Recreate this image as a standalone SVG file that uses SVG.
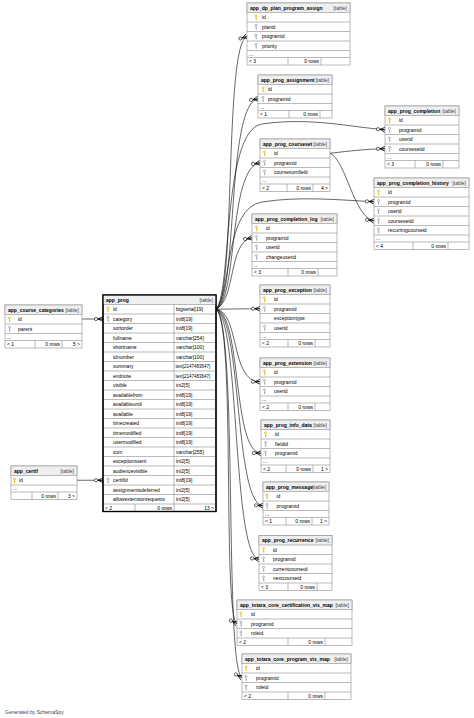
<svg xmlns="http://www.w3.org/2000/svg" xmlns:xlink="http://www.w3.org/1999/xlink" width="474" height="718" viewBox="0 0 474 718">
<style>
.bx{fill:#fff;stroke:#8c8c8c;stroke-width:0.6}
.bxm{fill:#fff;stroke:#000;stroke-width:1.2}
.hd{fill:#efefef;stroke:#8c8c8c;stroke-width:0.6}
.ln{fill:none;stroke:#8c8c8c;stroke-width:0.6}
.t{font-family:"Liberation Sans",Arial,sans-serif;font-size:5px;fill:#000}
.s{font-size:4.5px}
.n{font-weight:bold}
.r{text-anchor:end}
.g{fill:#444}
.c{fill:none;stroke:#000;stroke-width:0.6;marker-end:url(#crow)}
</style>
<defs>
<marker id="crow" markerUnits="userSpaceOnUse" viewBox="0 0 10 8" refX="10" refY="4" markerWidth="10" markerHeight="8" orient="auto">
<circle cx="3" cy="4" r="1.6" fill="#fff" stroke="#000" stroke-width="0.6"/>
<path d="M5,4L10,1.6M5,4L10,4M5,4L10,6.4" fill="none" stroke="#000" stroke-width="0.8"/>
</marker>
<g id="pk"><circle cx="0" cy="-1.4" r="1" fill="none" stroke="#d9b600" stroke-width="0.7"/><path d="M0,-0.4V2.6M0,1.5H0.9M0,2.4H0.9" fill="none" stroke="#d9b600" stroke-width="0.7"/></g>
<g id="fk"><circle cx="0" cy="-1.4" r="1" fill="none" stroke="#8a98ab" stroke-width="0.7"/><path d="M0,-0.4V2.6M0,1.5H0.9M0,2.4H0.9" fill="none" stroke="#8a98ab" stroke-width="0.7"/></g>
</defs>

<g id="connectors">
<path class="c" d="M216,309.25 C236,300 224,44 247,36.25"/>
<path class="c" d="M216,309.25 C238,300 226,104 258,98.75"/>
<path class="c" d="M216,309.25 C232,292 222,130 262,124 C310,117 350,127 385,129.75"/>
<path class="c" d="M216,309.25 C238,300 228,168 260,162.75"/>
<path class="c" d="M216,309.25 C232,292 224,208 262,202 C300,196 340,200 374,201.75"/>
<path class="c" d="M216,309.25 C236,300 228,242 252,237.75"/>
<path class="c" d="M216,309.25 C232,309 244,308.75 260,308.75"/>
<path class="c" d="M216,309.25 C240,312 230,382 260,381.75"/>
<path class="c" d="M216,309.25 C242,314 232,452 261,453.25"/>
<path class="c" d="M216,309.25 C242,316 234,504 263,505.75"/>
<path class="c" d="M216,309.25 C240,318 232,556 259,559.25"/>
<path class="c" d="M216,309.25 C236,320 222,616 237,623.75"/>
<path class="c" d="M216,309.25 C238,322 224,668 242,677.75"/>
<path class="c" d="M82,319 L103,319"/>
<path class="c" d="M77,480.25 L103,480.25"/>
<path class="c" d="M330,153.25 C350,151 365,149 385,148.75"/>
<path class="c" d="M330,153.25 C346,160 354,218 374,220.75"/>
</g>

<g id="app_dp_plan_program_assign">
<rect class="bx" x="247" y="3" width="103" height="62"/>
<rect class="hd" x="247" y="3" width="103" height="9.5"/>
<path class="ln" d="M247,22H350M247,31.5H350M247,41H350M247,50.5H350M247,57.5H350M288,57.5V65M321,57.5V65"/>
<text class="t n" x="250" y="9.5">app_dp_plan_program_assign</text>
<text class="t r g" x="347" y="9.5">[table]</text>
<use xlink:href="#pk" x="256" y="17.25"/><text class="t" x="262" y="19">id</text>
<use xlink:href="#fk" x="256" y="26.75"/><text class="t" x="262" y="28.5">planid</text>
<use xlink:href="#fk" x="256" y="36.25"/><text class="t" x="262" y="38">programid</text>
<use xlink:href="#fk" x="256" y="45.75"/><text class="t" x="262" y="47.5">priority</text>
<text class="t" x="249" y="55.8">...</text>
<text class="t" x="249" y="63">&lt; 3</text>
<text class="t r" x="319" y="63">0 rows</text>
</g>

<g id="app_prog_assignment">
<rect class="bx" x="258" y="75" width="74" height="43"/>
<rect class="hd" x="258" y="75" width="74" height="9.5"/>
<path class="ln" d="M258,94H332M258,103.5H332M258,110.5H332M289,110.5V118M320,110.5V118"/>
<text class="t n" x="261" y="81.5">app_prog_assignment</text>
<text class="t r g" x="329" y="81.5">[table]</text>
<use xlink:href="#pk" x="263" y="89.25"/><text class="t" x="268" y="91">id</text>
<use xlink:href="#fk" x="263" y="98.75"/><text class="t" x="268" y="100.5">programid</text>
<text class="t" x="260" y="108.8">...</text>
<text class="t" x="260" y="116">&lt; 1</text>
<text class="t r" x="318" y="116">0 rows</text>
</g>

<g id="app_prog_completion">
<rect class="bx" x="385" y="106" width="74" height="62"/>
<rect class="hd" x="385" y="106" width="74" height="9.5"/>
<path class="ln" d="M385,125H459M385,134.5H459M385,144H459M385,153.5H459M385,160.5H459M415,160.5V168M443,160.5V168"/>
<text class="t n" x="388" y="112.5">app_prog_completion</text>
<text class="t r g" x="456" y="112.5">[table]</text>
<use xlink:href="#pk" x="389.5" y="120.25"/><text class="t" x="399" y="122">id</text>
<use xlink:href="#fk" x="389.5" y="129.75"/><text class="t" x="399" y="131.5">programid</text>
<use xlink:href="#fk" x="389.5" y="139.25"/><text class="t" x="399" y="141">userid</text>
<use xlink:href="#fk" x="389.5" y="148.75"/><text class="t" x="399" y="150.5">coursesetid</text>
<text class="t" x="387" y="158.8">...</text>
<text class="t" x="387" y="166">&lt; 3</text>
<text class="t r" x="441" y="166">0 rows</text>
</g>

<g id="app_prog_completion_history">
<rect class="bx" x="374" y="178" width="95" height="71.5"/>
<rect class="hd" x="374" y="178" width="95" height="9.5"/>
<path class="ln" d="M374,197H469M374,206.5H469M374,216H469M374,225.5H469M374,235H469M374,242H469M413,242V249.5M448,242V249.5"/>
<text class="t n" x="377" y="184.5">app_prog_completion_history</text>
<text class="t r g" x="466" y="184.5">[table]</text>
<use xlink:href="#pk" x="378.5" y="192.25"/><text class="t" x="388" y="194">id</text>
<use xlink:href="#fk" x="378.5" y="201.75"/><text class="t" x="388" y="203.5">programid</text>
<use xlink:href="#fk" x="378.5" y="211.25"/><text class="t" x="388" y="213">userid</text>
<use xlink:href="#fk" x="378.5" y="220.75"/><text class="t" x="388" y="222.5">coursesetid</text>
<use xlink:href="#fk" x="378.5" y="230.25"/><text class="t" x="388" y="232">recurringcourseid</text>
<text class="t" x="376" y="240.3">...</text>
<text class="t" x="376" y="247.5">&lt; 4</text>
<text class="t r" x="446" y="247.5">0 rows</text>
</g>

<g id="app_prog_courseset">
<rect class="bx" x="260" y="139" width="70" height="52.5"/>
<rect class="hd" x="260" y="139" width="70" height="9.5"/>
<path class="ln" d="M260,158H330M260,167.5H330M260,177H330M260,184H330M287,184V191.5M313,184V191.5"/>
<text class="t n" x="263" y="145.5">app_prog_courseset</text>
<text class="t r g" x="327" y="145.5">[table]</text>
<use xlink:href="#pk" x="264.5" y="153.25"/><text class="t" x="274" y="155">id</text>
<use xlink:href="#fk" x="264.5" y="162.75"/><text class="t" x="274" y="164.5">programid</text>
<use xlink:href="#fk" x="264.5" y="172.25"/><text class="t" x="274" y="174">coursesumfield</text>
<text class="t" x="262" y="182.3">...</text>
<text class="t" x="262" y="189.5">&lt; 2</text>
<text class="t r" x="311" y="189.5">0 rows</text>
<text class="t r" x="328" y="189.5">4 &gt;</text>
</g>

<g id="app_prog_completion_log">
<rect class="bx" x="252" y="214" width="85" height="62"/>
<rect class="hd" x="252" y="214" width="85" height="9.5"/>
<path class="ln" d="M252,233H337M252,242.5H337M252,252H337M252,261.5H337M252,268.5H337M288,268.5V276M318,268.5V276"/>
<text class="t n" x="255" y="220.5">app_prog_completion_log</text>
<text class="t r g" x="334" y="220.5">[table]</text>
<use xlink:href="#pk" x="256.5" y="228.25"/><text class="t" x="266" y="230">id</text>
<use xlink:href="#fk" x="256.5" y="237.75"/><text class="t" x="266" y="239.5">programid</text>
<use xlink:href="#fk" x="256.5" y="247.25"/><text class="t" x="266" y="249">userid</text>
<use xlink:href="#fk" x="256.5" y="256.75"/><text class="t" x="266" y="258.5">changeuserid</text>
<text class="t" x="254" y="266.8">...</text>
<text class="t" x="254" y="274">&lt; 3</text>
<text class="t r" x="316" y="274">0 rows</text>
</g>

<g id="app_prog_exception">
<rect class="bx" x="260" y="285" width="70" height="62"/>
<rect class="hd" x="260" y="285" width="70" height="9.5"/>
<path class="ln" d="M260,304H330M260,313.5H330M260,323H330M260,332.5H330M260,339.5H330M288,339.5V347M315,339.5V347"/>
<text class="t n" x="263" y="291.5">app_prog_exception</text>
<text class="t r g" x="327" y="291.5">[table]</text>
<use xlink:href="#pk" x="264.5" y="299.25"/><text class="t" x="274" y="301">id</text>
<use xlink:href="#fk" x="264.5" y="308.75"/><text class="t" x="274" y="310.5">programid</text>
<text class="t" x="274" y="320">exceptiontype</text>
<use xlink:href="#fk" x="264.5" y="327.75"/><text class="t" x="274" y="329.5">userid</text>
<text class="t" x="262" y="337.8">...</text>
<text class="t" x="262" y="345">&lt; 2</text>
<text class="t r" x="313" y="345">0 rows</text>
</g>

<g id="app_prog_extension">
<rect class="bx" x="260" y="358" width="70" height="52.5"/>
<rect class="hd" x="260" y="358" width="70" height="9.5"/>
<path class="ln" d="M260,377H330M260,386.5H330M260,396H330M260,403H330M288,403V410.5M315,403V410.5"/>
<text class="t n" x="263" y="364.5">app_prog_extension</text>
<text class="t r g" x="327" y="364.5">[table]</text>
<use xlink:href="#pk" x="264.5" y="372.25"/><text class="t" x="274" y="374">id</text>
<use xlink:href="#fk" x="264.5" y="381.75"/><text class="t" x="274" y="383.5">programid</text>
<use xlink:href="#fk" x="264.5" y="391.25"/><text class="t" x="274" y="393">userid</text>
<text class="t" x="262" y="401.3">...</text>
<text class="t" x="262" y="408.5">&lt; 2</text>
<text class="t r" x="313" y="408.5">0 rows</text>
</g>

<g id="app_prog_info_data">
<rect class="bx" x="261" y="420" width="69" height="52.5"/>
<rect class="hd" x="261" y="420" width="69" height="9.5"/>
<path class="ln" d="M261,439H330M261,448.5H330M261,458H330M261,465H330M286,465V472.5M313,465V472.5"/>
<text class="t n" x="264" y="426.5">app_prog_info_data</text>
<text class="t r g" x="327" y="426.5">[table]</text>
<use xlink:href="#pk" x="265.5" y="434.25"/><text class="t" x="275" y="436">id</text>
<use xlink:href="#fk" x="265.5" y="443.75"/><text class="t" x="275" y="445.5">fieldid</text>
<use xlink:href="#fk" x="265.5" y="453.25"/><text class="t" x="275" y="455">programid</text>
<text class="t" x="263" y="463.3">...</text>
<text class="t" x="263" y="470.5">&lt; 2</text>
<text class="t r" x="311" y="470.5">0 rows</text>
<text class="t r" x="328" y="470.5">1 &gt;</text>
</g>

<g id="app_prog_message">
<rect class="bx" x="263" y="482" width="66" height="43"/>
<rect class="hd" x="263" y="482" width="66" height="9.5"/>
<path class="ln" d="M263,501H329M263,510.5H329M263,517.5H329M286,517.5V525M312,517.5V525"/>
<text class="t n" x="266" y="488.5">app_prog_message</text>
<text class="t r g" x="326" y="488.5">[table]</text>
<use xlink:href="#pk" x="267" y="496.25"/><text class="t" x="276.5" y="498">id</text>
<use xlink:href="#fk" x="267" y="505.75"/><text class="t" x="276.5" y="507.5">programid</text>
<text class="t" x="265" y="515.8">...</text>
<text class="t" x="265" y="523">&lt; 1</text>
<text class="t r" x="310" y="523">0 rows</text>
<text class="t r" x="327" y="523">1 &gt;</text>
</g>

<g id="app_prog_recurrence">
<rect class="bx" x="259" y="535.5" width="73" height="55"/>
<rect class="hd" x="259" y="535.5" width="73" height="9.5"/>
<path class="ln" d="M259,554.5H332M259,564H332M259,573.5H332M259,583H332M288,583V590.5M317,583V590.5"/>
<text class="t n" x="262" y="542">app_prog_recurrence</text>
<text class="t r g" x="329" y="542">[table]</text>
<use xlink:href="#pk" x="263.5" y="549.75"/><text class="t" x="273" y="551.5">id</text>
<use xlink:href="#fk" x="263.5" y="559.25"/><text class="t" x="273" y="561">programid</text>
<use xlink:href="#fk" x="263.5" y="568.75"/><text class="t" x="273" y="570.5">currentcourseid</text>
<use xlink:href="#fk" x="263.5" y="578.25"/><text class="t" x="273" y="580">nextcourseid</text>
<text class="t" x="261" y="588.5">&lt; 3</text>
<text class="t r" x="315" y="588.5">0 rows</text>
</g>

<g id="app_totara_core_certification_vis_map">
<rect class="bx" x="237" y="600" width="115" height="45.5"/>
<rect class="hd" x="237" y="600" width="115" height="9.5"/>
<path class="ln" d="M237,619H352M237,628.5H352M237,638H352M288,638V645.5M325,638V645.5"/>
<text class="t n" x="240" y="606.5">app_totara_core_certification_vis_map</text>
<text class="t r g" x="349" y="606.5">[table]</text>
<use xlink:href="#pk" x="241" y="614.25"/><text class="t" x="251" y="616">id</text>
<use xlink:href="#fk" x="241" y="623.75"/><text class="t" x="251" y="625.5">programid</text>
<use xlink:href="#fk" x="241" y="633.25"/><text class="t" x="251" y="635">roleid</text>
<text class="t" x="239" y="643.5">&lt; 2</text>
<text class="t r" x="323" y="643.5">0 rows</text>
</g>

<g id="app_totara_core_program_vis_map">
<rect class="bx" x="242" y="654" width="109" height="45.5"/>
<rect class="hd" x="242" y="654" width="109" height="9.5"/>
<path class="ln" d="M242,673H351M242,682.5H351M242,692H351M288,692V699.5M325,692V699.5"/>
<text class="t n" x="245" y="660.5">app_totara_core_program_vis_map</text>
<text class="t r g" x="348" y="660.5">[table]</text>
<use xlink:href="#pk" x="246" y="668.25"/><text class="t" x="256" y="670">id</text>
<use xlink:href="#fk" x="246" y="677.75"/><text class="t" x="256" y="679.5">programid</text>
<use xlink:href="#fk" x="246" y="687.25"/><text class="t" x="256" y="689">roleid</text>
<text class="t" x="244" y="697.5">&lt; 2</text>
<text class="t r" x="323" y="697.5">0 rows</text>
</g>

<g id="app_course_categories">
<rect class="bx" x="5" y="305" width="77" height="43"/>
<rect class="hd" x="5" y="305" width="77" height="9.5"/>
<path class="ln" d="M5,324H82M5,333.5H82M5,340.5H82M35,340.5V348M62,340.5V348"/>
<text class="t n" x="8" y="311.5">app_course_categories</text>
<text class="t r g" x="79" y="311.5">[table]</text>
<use xlink:href="#pk" x="9.5" y="319.25"/><text class="t" x="18" y="321">id</text>
<use xlink:href="#fk" x="9.5" y="328.75"/><text class="t" x="18" y="330.5">parent</text>
<text class="t" x="7" y="338.8">...</text>
<text class="t" x="7" y="346">&lt; 1</text>
<text class="t r" x="60" y="346">0 rows</text>
<text class="t r" x="80" y="346">5 &gt;</text>
</g>

<g id="app_certif">
<rect class="bx" x="11" y="466" width="66" height="33.5"/>
<rect class="hd" x="11" y="466" width="66" height="9.5"/>
<path class="ln" d="M11,485H77M11,492H77M32,492V499.5M58,492V499.5"/>
<text class="t n" x="14" y="472.5">app_certif</text>
<text class="t r g" x="74" y="472.5">[table]</text>
<use xlink:href="#pk" x="14.5" y="480.25"/><text class="t" x="19" y="482">id</text>
<text class="t" x="13" y="490.3">...</text>
<text class="t r" x="56" y="497.5">0 rows</text>
<text class="t r" x="75" y="497.5">3 &gt;</text>
</g>

<g id="app_prog">
<rect class="bxm" x="103" y="295" width="113" height="216.5"/>
<rect class="hd" x="103" y="295" width="113" height="9.5"/>
<path class="ln" d="M103,314H216M103,323.5H216M103,333H216M103,342.5H216M103,352H216M103,361.5H216M103,371H216M103,380.5H216M103,390H216M103,399.5H216M103,409H216M103,418.5H216M103,428H216M103,437.5H216M103,447H216M103,456.5H216M103,466H216M103,475.5H216M103,485H216M103,494.5H216M103,504H216M174,304.5V511.5M135,504V511.5"/>
<rect x="103" y="295" width="113" height="216.5" fill="none" stroke="#000" stroke-width="1.2"/>
<text class="t n" x="106" y="301.5">app_prog</text>
<text class="t r g" x="213" y="301.5">[table]</text>
<use xlink:href="#pk" x="108" y="309.25"/><text class="t" x="113" y="311">id</text><text class="t" x="176" y="311">bigserial[19]</text>
<use xlink:href="#fk" x="108" y="318.75"/><text class="t" x="113" y="320.5">category</text><text class="t" x="176" y="320.5">int8[19]</text>
<text class="t" x="113" y="330">sortorder</text><text class="t" x="176" y="330">int8[19]</text>
<text class="t" x="113" y="339.5">fullname</text><text class="t" x="176" y="339.5">varchar[254]</text>
<text class="t" x="113" y="349">shortname</text><text class="t" x="176" y="349">varchar[100]</text>
<text class="t" x="113" y="358.5">idnumber</text><text class="t" x="176" y="358.5">varchar[100]</text>
<text class="t" x="113" y="368">summary</text><text class="t s" x="175.5" y="368">text[2147483647]</text>
<text class="t" x="113" y="377.5">endnote</text><text class="t s" x="175.5" y="377.5">text[2147483647]</text>
<text class="t" x="113" y="387">visible</text><text class="t" x="176" y="387">int2[5]</text>
<text class="t" x="113" y="396.5">availablefrom</text><text class="t" x="176" y="396.5">int8[19]</text>
<text class="t" x="113" y="406">availableuntil</text><text class="t" x="176" y="406">int8[19]</text>
<text class="t" x="113" y="415.5">available</text><text class="t" x="176" y="415.5">int8[19]</text>
<text class="t" x="113" y="425">timecreated</text><text class="t" x="176" y="425">int8[19]</text>
<text class="t" x="113" y="434.5">timemodified</text><text class="t" x="176" y="434.5">int8[19]</text>
<text class="t" x="113" y="444">usermodified</text><text class="t" x="176" y="444">int8[19]</text>
<text class="t" x="113" y="453.5">icon</text><text class="t" x="176" y="453.5">varchar[255]</text>
<text class="t" x="113" y="463">exceptionssent</text><text class="t" x="176" y="463">int2[5]</text>
<text class="t" x="113" y="472.5">audiencevisible</text><text class="t" x="176" y="472.5">int2[5]</text>
<use xlink:href="#fk" x="108" y="480.25"/><text class="t" x="113" y="482">certifid</text><text class="t" x="176" y="482">int8[19]</text>
<text class="t" x="113" y="491.5">assignmentsdeferred</text><text class="t" x="176" y="491.5">int2[5]</text>
<text class="t" x="113" y="501">allowextensionrequests</text><text class="t" x="176" y="501">int2[5]</text>
<text class="t" x="105" y="509.5">&lt; 2</text>
<text class="t r" x="172" y="509.5">0 rows</text>
<text class="t r" x="214" y="509.5">13 &gt;</text>
</g>

<text class="t g" x="5" y="714">Generated by SchemaSpy</text>
</svg>
